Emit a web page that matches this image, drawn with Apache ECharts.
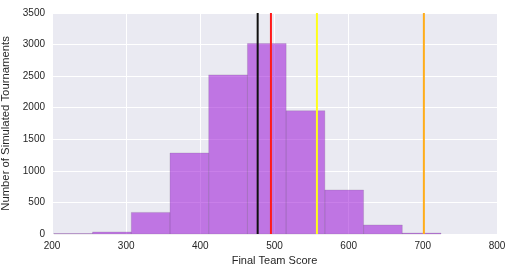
<!DOCTYPE html>
<html><head><meta charset="utf-8">
<script src="https://cdn.jsdelivr.net/npm/echarts@6/dist/echarts.min.js"></script>
<style>html,body{margin:0;padding:0;background:#fff}#c{width:512px;height:273px}</style>
</head><body><div id="c"></div>
<script>
const binEdges = [202.5, 254.7, 306.9, 359.1, 411.3, 463.5, 515.7, 567.9, 620.1, 672.3, 724.5];
const binCounts = [8, 32, 342, 1283, 2520, 3015, 1952, 697, 143, 14];
const refLines = [477.3, 495.2, 557.2, 701.4];
const refColors = ['#111111', '#ff1a1a', '#ffff1a', '#ffad1a'];
const xTicks = [200, 300, 400, 500, 600, 700, 800];
const yTicks = [0, 500, 1000, 1500, 2000, 2500, 3000, 3500];

const chart = echarts.init(document.getElementById('c'), null, {renderer: 'canvas'});
const histData = binCounts.map((c, i) => [binEdges[i], binEdges[i + 1], c]);
const font = 'Liberation Sans, Arial, sans-serif';
const series = [{
  type: 'custom',
  data: histData,
  encode: {x: [0, 1], y: 2},
  renderItem: function (params, api) {
    const p0 = api.coord([api.value(0), api.value(2)]);
    const p1 = api.coord([api.value(1), 0]);
    return {
      type: 'rect',
      shape: {x: p0[0], y: p0[1], width: p1[0] - p0[0], height: p1[1] - p0[1]},
      style: {fill: 'rgba(148,0,211,0.5)', stroke: 'rgba(120,100,130,0.22)', lineWidth: 1}
    };
  },
  z: 2
}];
refLines.forEach((v, i) => {
  series.push({
    type: 'line',
    data: [[v, yTicks[0]], [v, yTicks[yTicks.length - 1]]],
    symbol: 'none',
    lineStyle: {color: refColors[i], width: 2},
    z: 3
  });
});
chart.setOption({
  animation: false,
  backgroundColor: '#ffffff',
  grid: {left: 52, right: 15, top: 13, bottom: 39, show: true, backgroundColor: '#EAEAF2', borderWidth: 0,
         containLabel: false, outerBoundsMode: 'none'},
  xAxis: {
    type: 'value', min: xTicks[0], max: xTicks[xTicks.length - 1], interval: 100,
    name: 'Final Team Score', nameLocation: 'middle', nameGap: 21,
    nameTextStyle: {fontFamily: font, fontSize: 11, color: '#262626'},
    axisLine: {show: false}, axisTick: {show: false},
    axisLabel: {fontFamily: font, fontSize: 10, color: '#262626', margin: 7, formatter: v => String(v)},
    splitLine: {show: true, lineStyle: {color: '#ffffff', width: 1}}
  },
  yAxis: {
    type: 'value', min: yTicks[0], max: yTicks[yTicks.length - 1], interval: 500,
    name: 'Number of Simulated Tournaments', nameLocation: 'middle', nameGap: 33,
    nameTextStyle: {fontFamily: font, fontSize: 11.3, color: '#262626'},
    axisLine: {show: false}, axisTick: {show: false},
    axisLabel: {fontFamily: font, fontSize: 10, color: '#262626', margin: 7, formatter: v => String(v)},
    splitLine: {show: true, lineStyle: {color: '#ffffff', width: 1}}
  },
  series: series
});
</script></body></html>
